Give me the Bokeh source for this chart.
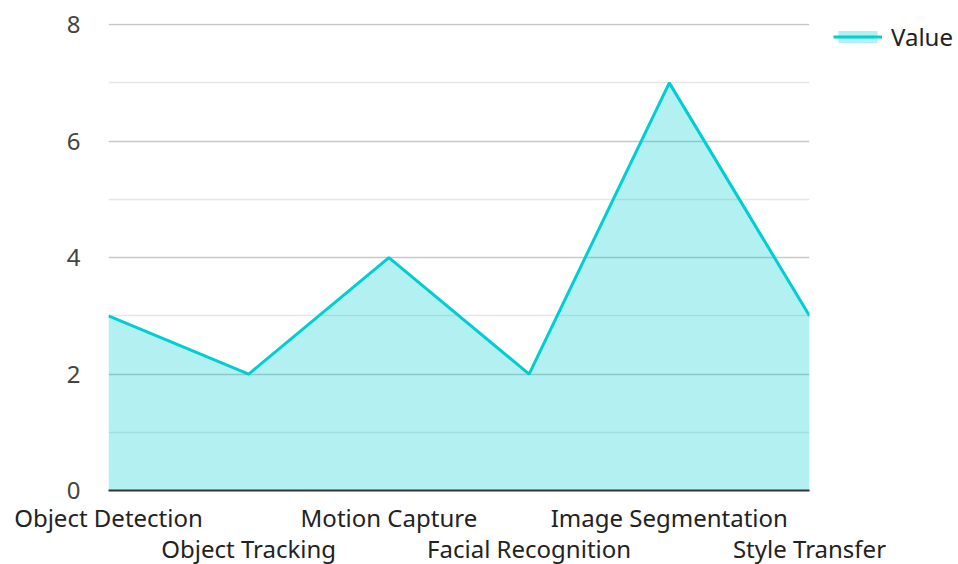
from bokeh.plotting import figure
from bokeh.models import Range1d, LinearAxis, FixedTicker, Legend, LegendItem
from bokeh.embed import file_html
from bokeh.resources import INLINE

categories = ["Object Detection", "Object Tracking", "Motion Capture",
              "Facial Recognition", "Image Segmentation", "Style Transfer"]
values = [3, 2, 4, 2, 7, 3]
y_ticks = [0, 2, 4, 6, 8]
y_minor = [1, 3, 5, 7]

FONT = "Noto Sans"
COLOR = "#00CED1"
FS = "24px"

xs = list(range(len(categories)))

p = figure(frame_width=701, frame_height=467, output_backend="svg",
           toolbar_location=None, x_axis_type=None,
           x_range=Range1d(0, len(categories) - 1), y_range=Range1d(0, 8.02),
           min_border_left=108, min_border_top=23, min_border_bottom=0,
           min_border_right=149)
p.outline_line_color = None

area = p.varea(x=xs, y1=[0] * len(xs), y2=values, fill_color=COLOR, fill_alpha=0.3)
ln = p.line(x=xs, y=values, line_color=COLOR, line_width=3)

# y axis
yax = p.yaxis[0]
yax.ticker = FixedTicker(ticks=y_ticks, minor_ticks=y_minor)
yax.axis_line_color = None
yax.major_tick_line_color = None
yax.minor_tick_line_color = None
yax.major_label_text_font = FONT
yax.major_label_text_font_size = FS
yax.major_label_text_color = "#444444"
yax.major_label_standoff = 22

p.ygrid.grid_line_color = "#c8c8c8"
p.ygrid.grid_line_width = 1.5
p.ygrid.minor_grid_line_color = "#e6e6e6"
p.ygrid.minor_grid_line_width = 1.5
p.xgrid.grid_line_color = None

even = {i: categories[i] for i in xs if i % 2 == 0}
odd = {i: categories[i] for i in xs if i % 2 == 1}

ax1 = LinearAxis(ticker=FixedTicker(ticks=list(even.keys())),
                 major_label_overrides=even)
ax1.axis_line_color = "#333333"
ax1.axis_line_width = 2
ax1.major_tick_line_color = None
ax1.minor_tick_line_color = None
ax1.major_tick_out = 0
ax1.major_label_standoff = 10
ax1.major_label_text_font = FONT
ax1.major_label_text_font_size = FS
ax1.major_label_text_color = "#222222"
p.add_layout(ax1, "below")

ax2 = LinearAxis(ticker=FixedTicker(ticks=list(odd.keys())),
                 major_label_overrides=odd)
ax2.axis_line_color = None
ax2.major_tick_line_color = None
ax2.minor_tick_line_color = None
ax2.major_tick_out = 0
ax2.major_label_standoff = -5
ax2.major_label_text_font = FONT
ax2.major_label_text_font_size = FS
ax2.major_label_text_color = "#222222"
p.add_layout(ax2, "below")

legend = Legend(items=[LegendItem(label="Value", renderers=[area, ln])],
                location=(24, 437), border_line_color=None,
                background_fill_alpha=0, label_text_font=FONT,
                label_text_font_size=FS, label_text_color="#222222",
                glyph_width=49, glyph_height=15, padding=0, margin=0,
                label_standoff=9)
p.add_layout(legend, "right")

open("out.html", "w").write(file_html(p, INLINE))
